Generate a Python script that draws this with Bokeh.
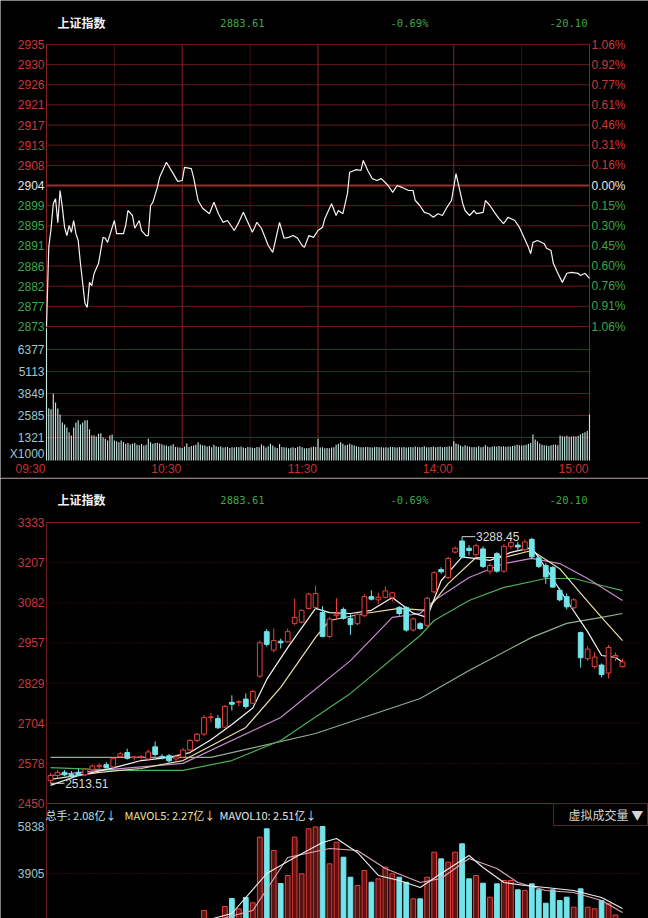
from bokeh.plotting import figure
from bokeh.layouts import column
from bokeh.models import Range1d, ColumnDataSource
from bokeh.embed import file_html
from bokeh.resources import INLINE
from bokeh.core.properties import value

# ---------------- data ----------------
index_name = "上证指数"
last_price = "2883.61"
change_pct = "-0.69%"
change_abs = "-20.10"

price_tick_labels = ["2935", "2930", "2926", "2921", "2917", "2913", "2908", "2904",
                     "2899", "2895", "2891", "2886", "2882", "2877", "2873"]
pct_tick_labels = ["1.06%", "0.92%", "0.77%", "0.61%", "0.46%", "0.31%", "0.16%", "0.00%",
                   "0.15%", "0.30%", "0.45%", "0.60%", "0.76%", "0.91%", "1.06%"]
minute_vol_ticks = [6377, 5113, 3849, 2585, 1321]
minute_vol_unit = "X1000"
time_labels = ["09:30", "10:30", "11:30", "14:00", "15:00"]
time_label_minutes = [0, 60, 120, 180, 240]

intraday_minute = [0, 1, 2, 3, 4, 5, 6, 7, 8, 9, 10, 11, 12, 13, 14, 15, 16, 17, 18, 19, 20, 21, 23, 25,
                   26, 27, 30, 31, 34, 35, 36, 38, 39, 41, 42, 44, 45, 46, 47, 49, 50, 52, 53, 56, 58,
                   60, 61, 64, 65, 67, 69, 72, 74, 76, 78, 80, 83, 85, 87, 89, 91, 93, 95, 98, 100,
                   101, 103, 105, 107, 109, 111, 113, 114, 116, 118, 120, 122, 123, 126, 128, 129,
                   131, 133, 134, 137, 139, 140, 142, 144, 146, 148, 151, 153, 155, 157, 160, 162,
                   163, 165, 167, 169, 171, 173, 175, 177, 179, 181, 182, 184, 185, 187, 189, 190,
                   193, 194, 196, 198, 200, 202, 204, 207, 209, 211, 213, 214, 215, 217, 220, 221,
                   223, 224, 226, 228, 230, 232, 235, 236, 238, 240]
intraday_price = [2873.0, 2890.4, 2894.5, 2900.0, 2901.1, 2895.8, 2902.9, 2899.2, 2894.8, 2893.0,
                  2895.2, 2893.7, 2896.3, 2893.4, 2891.9, 2886.9, 2882.5, 2878.1, 2877.2, 2882.7,
                  2882.0, 2884.6, 2886.9, 2892.6, 2892.4, 2891.5, 2896.3, 2893.4, 2893.4, 2895.2,
                  2898.5, 2897.4, 2894.6, 2896.3, 2894.1, 2893.0, 2893.0, 2899.6, 2900.3, 2903.6,
                  2905.8, 2908.0, 2909.1, 2906.6, 2904.9, 2905.1, 2908.0, 2907.7, 2905.8, 2900.7,
                  2899.0, 2897.8, 2900.3, 2897.8, 2895.9, 2896.3, 2894.1, 2895.9, 2898.1, 2895.9,
                  2893.7, 2895.9, 2894.6, 2890.8, 2889.3, 2891.5, 2895.9, 2892.4, 2892.6, 2893.0,
                  2892.4, 2890.8, 2890.4, 2893.0, 2892.6, 2894.1, 2894.8, 2896.7, 2900.0, 2897.4,
                  2898.5, 2897.8, 2902.2, 2906.9, 2907.5, 2907.3, 2909.5, 2907.3, 2905.5, 2905.1,
                  2905.5, 2904.0, 2902.5, 2904.0, 2903.6, 2902.9, 2902.9, 2900.7, 2899.6, 2898.1,
                  2897.8, 2897.0, 2897.8, 2897.4, 2899.2, 2900.7, 2906.6, 2904.4, 2900.0, 2898.5,
                  2897.4, 2898.5, 2897.8, 2898.1, 2900.7, 2899.6, 2898.1, 2896.7, 2895.6, 2897.0,
                  2896.3, 2894.8, 2892.6, 2890.4, 2889.0, 2891.5, 2891.9, 2891.2, 2890.2, 2889.7,
                  2886.9, 2884.7, 2882.7, 2884.7, 2884.9, 2884.7, 2884.2, 2884.7, 2883.6]

# minute volume (x1000), minutes 0..240
minute_volume = [
    7600, 3000, 2950, 3850, 3330, 2990, 2640, 2180, 2070, 1900,
    1630, 1440, 1900, 2180, 2310, 2070, 2180, 2310, 2310, 1800,
    1440, 1440, 1380, 1530, 1570, 1340, 1250, 1150, 1440, 1490,
    1150, 1100, 1050, 1150, 1060, 960, 1000, 920, 960, 1010,
    900, 880, 950, 860, 900, 1250, 1050, 960, 1000, 1020,
    980, 930, 880, 860, 820, 860, 930, 780, 760, 740,
    720, 800, 980, 780, 840, 860, 900, 1050, 920, 880,
    860, 800, 830, 760, 900, 820, 780, 800, 740, 760,
    780, 720, 760, 740, 770, 760, 800, 740, 720, 780,
    760, 730, 720, 780, 760, 920, 850, 740, 820, 960,
    860, 760, 720, 940, 780, 760, 740, 700, 730, 760,
    720, 780, 820, 760, 690, 700, 720, 760, 800, 780,
    1250, 740, 760, 700, 720, 700, 740, 760, 900, 960,
    1050, 960, 880, 900, 960, 900, 860, 820, 780, 760,
    760, 770, 780, 760, 740, 770, 780, 760, 760, 740,
    760, 740, 770, 780, 760, 740, 770, 760, 780, 740,
    760, 780, 760, 800, 770, 760, 780, 820, 760, 760,
    780, 800, 760, 770, 800, 760, 780, 790, 820, 800,
    1100, 980, 940, 860, 800, 880, 820, 790, 760, 780,
    760, 820, 760, 790, 880, 800, 760, 800, 820, 810,
    840, 800, 820, 790, 810, 800, 830, 860, 900, 880,
    860, 880, 900, 960, 1000, 1490, 1200, 1100, 980, 900,
    880, 860, 840, 880, 900, 920, 880, 1440, 1400, 1380,
    1420, 1360, 1380, 1400, 1380, 1420, 1500, 1560, 1630, 1700,
    2640]

kline_tick_labels = ["3333", "3207", "3082", "2957", "2829", "2704", "2578", "2450"]
k_open = [2522, 2538, 2548, 2542, 2548, 2540, 2556, 2566, 2572, 2565,
          2598, 2610, 2594, 2595, 2590, 2628, 2598, 2600, 2590, 2596,
          2618, 2648, 2668, 2720, 2717, 2690, 2768, 2768, 2778, 2765,
          2850, 2990, 2932, 2960, 2958, 3016, 3020, 3063, 3066, 3050,
          2975, 3040, 3060, 3032, 3015, 3040, 3100, 3090, 3098, 3098,
          3066, 3066, 2995, 3015, 3010, 3115, 3185, 3160, 3240, 3275,
          3252, 3232, 3250, 3180, 3235, 3180, 3258, 3262, 3248, 3280,
          3222, 3198, 3192, 3120, 3100, 3065, 2987, 2905, 2880, 2885,
          2860, 2910, 2880]
k_high = [2545, 2556, 2555, 2552, 2560, 2562, 2572, 2575, 2580, 2595,
          2612, 2622, 2600, 2602, 2620, 2645, 2605, 2606, 2604, 2625,
          2652, 2672, 2728, 2735, 2728, 2760, 2790, 2775, 2796, 2808,
          2962, 2998, 3000, 2968, 3000, 3094, 3060, 3112, 3135, 3070,
          3035, 3095, 3066, 3046, 3048, 3108, 3120, 3112, 3132, 3115,
          3070, 3070, 3035, 3020, 3100, 3180, 3192, 3225, 3258, 3288.45,
          3262, 3266, 3258, 3205, 3240, 3265, 3285, 3272, 3280, 3285,
          3228, 3205, 3196, 3128, 3110, 3095, 2990, 2945, 2925, 2890,
          2948, 2925, 2905]
k_low = [2513.51, 2530, 2536, 2528, 2535, 2536, 2550, 2558, 2560, 2562,
         2595, 2588, 2585, 2588, 2585, 2598, 2588, 2578, 2582, 2592,
         2614, 2642, 2662, 2705, 2684, 2688, 2742, 2755, 2748, 2762,
         2845, 2943, 2925, 2937, 2956, 3010, 3016, 3060, 3062, 2972,
         2970, 3030, 3028, 2980, 3010, 3036, 3088, 3078, 3095, 3085,
         3040, 2990, 2990, 2996, 3005, 3110, 3172, 3155, 3235, 3220,
         3230, 3222, 3190, 3170, 3175, 3175, 3250, 3245, 3240, 3218,
         3190, 3140, 3128, 3085, 3060, 3057, 2877, 2898, 2874, 2846,
         2843, 2898, 2877]
k_close = [2538, 2548, 2540, 2535, 2538, 2558, 2568, 2570, 2562, 2592,
           2606, 2592, 2596, 2598, 2612, 2604, 2596, 2584, 2596, 2618,
           2648, 2668, 2720, 2722, 2688, 2755, 2762, 2770, 2755, 2802,
           2955, 2950, 2962, 2955, 2990, 3035, 3057, 3108, 3110, 2975,
           3030, 3045, 3032, 3012, 3045, 3100, 3092, 3098, 3118, 3112,
           3047, 2995, 3030, 3000, 3095, 3175, 3178, 3220, 3252, 3225,
           3245, 3260, 3195, 3198, 3180, 3258, 3270, 3256, 3272, 3225,
           3195, 3162, 3130, 3090, 3068, 3090, 2908, 2935, 2910, 2855,
           2940, 2915, 2895]
k_volume = [1500, 1450, 1300, 1250, 1350, 1400, 1500, 1450, 1350, 1600,
            1700, 1650, 1400, 1350, 1550, 1750, 1500, 1600, 1450, 1800,
            1950, 2000, 2383, 2000, 1950, 2548, 2877, 2453, 2918, 2700,
            5398, 5743, 4851, 3494, 3823, 5398, 3891, 5743, 5820, 5838,
            4304, 5192, 4576, 3753, 3411, 4028, 3547, 3687, 4166, 3891,
            3753, 3547, 2864, 2864, 3753, 4782, 4510, 4370, 4782, 5127,
            3687, 3823, 3506, 2930, 3481, 3617, 3617, 3235, 3206, 3481,
            3235, 2683, 3235, 2795, 2930, 2520, 3276, 2520, 2453, 2795,
            2659, 2200, 2000]

ma5_idx = [0, 4, 9, 13, 17, 20, 23, 26, 29, 31, 34, 38, 40, 43, 46, 49, 52, 54, 56, 59,
           63, 66, 69, 71, 74, 77, 79, 81, 82]
ma5_val = [2507, 2538, 2562, 2585, 2595, 2610, 2650, 2698, 2750, 2840, 2940, 3063, 3050, 3047,
           3057, 3097, 3048, 3035, 3150, 3225, 3214, 3239, 3254, 3190, 3088, 2990, 2915, 2909, 2895]
ma10_idx = [0, 7, 13, 19, 28, 33, 38, 40, 45, 50, 54, 57, 61, 65, 69, 73, 76, 79, 82]
ma10_val = [2526, 2548, 2560, 2585, 2689, 2815, 2972, 3025, 3047, 3063, 3057, 3141, 3223, 3223,
            3245, 3188, 3110, 3035, 2962]
ma20_idx = [0, 7, 19, 33, 43, 49, 53, 55, 60, 65, 69, 73, 77, 82]
ma20_val = [2538, 2554, 2576, 2720, 2899, 3035, 3047, 3088, 3160, 3204, 3220, 3204, 3157, 3088]
ma30_idx = [0, 10, 19, 26, 33, 43, 53, 55, 60, 65, 71, 75, 79, 82]
ma30_val = [2563, 2554, 2554, 2585, 2648, 2796, 2978, 3025, 3088, 3129, 3157, 3157, 3135, 3119]
ma60_idx = [0, 12, 23, 38, 53, 60, 69, 74, 79, 82]
ma60_val = [2595, 2595, 2595, 2670, 2780, 2868, 2972, 3016, 3035, 3047]

kvol_ticks = [5838, 3905]
mavol5_idx = [0, 20, 26, 31, 35, 39, 41, 44, 47, 50, 53, 56, 60, 62, 65, 68, 71, 75, 79, 82]
mavol5_val = [1500, 1800, 2260, 3905, 4563, 5180, 5345, 4769, 3823, 3617, 3329, 3905, 4645,
              4152, 3535, 3411, 3329, 3206, 2918, 2465]
mavol10_idx = [0, 20, 29, 34, 40, 44, 48, 53, 56, 60, 64, 67, 71, 75, 79, 82]
mavol10_val = [1500, 1700, 2383, 4563, 4933, 4851, 4111, 3535, 3699, 4522, 4111, 3535, 3206,
               3124, 2795, 2301]
vol_header = ["总手: 2.08亿↓", "MAVOL5: 2.27亿↓", "MAVOL10: 2.51亿↓"]
vol_selector = "虚拟成交量 ▼"

# ---------------- style / layout ----------------
W = 648
H1, H2 = 478, 440
BG = "#000000"
RED_TXT = "#c8393c"
GRN_TXT = "#3ea64b"
WHT_TXT = "#e6e6e6"
VOL_TXT = "#9fc6cf"
GRID_RED = "#681818"
GRID_RED_HI = "#a02c2c"
VGRID_MAJ = "#862424"
VGRID_MIN = "#3a1010"
UP = "#e8413c"
DN = "#72e4ea"
NUM_FONT = "Liberation Sans"
CJK_FONT = "Noto Sans CJK SC"
MONO_FONT = "DejaVu Sans Mono"


def make_fig(h, xr, yr, extra):
    p = figure(width=W, height=h, x_range=xr, y_range=yr, output_backend="svg",
               toolbar_location=None, x_axis_location=None, y_axis_location=None,
               min_border=0, background_fill_color=BG, border_fill_color=BG,
               outline_line_color=None, title=None)
    p.grid.visible = False
    p.extra_x_ranges = {"px": Range1d(0, W)}
    ranges = {"py": Range1d(h, 0)}
    ranges.update(extra)
    p.extra_y_ranges = ranges
    return p


def txt(p, x, y, s, color, size=12, align="left", font=NUM_FONT, style="normal",
        xr="px", yr="py"):
    p.text(x=[x], y=[y], text=[s], x_range_name=xr, y_range_name=yr,
           text_color=color, text_font_size=f"{size}px", text_align=align,
           text_baseline="middle", text_font=value(font), text_font_style=style)


def header(p, y):
    txt(p, 57, y, index_name, "#f2f2f2", 12, font=CJK_FONT, style="bold")
    txt(p, 242, y, last_price, GRN_TXT, 10.5, align="center", font=MONO_FONT)
    txt(p, 409, y, change_pct, GRN_TXT, 10.5, align="center", font=MONO_FONT)
    txt(p, 568, y, change_abs, GRN_TXT, 10.5, align="center", font=MONO_FONT)


prev_close = float(last_price) - float(change_abs)

# ================= top panel: intraday =================
T_X0, T_X1 = 46, 589
T_Y_TOP, T_Y_BOT = 44, 326
T_VOL_BASE = 460
T_VOL_REF = 349
N_MIN = 240
ppm = (T_X1 - T_X0) / N_MIN
P_HI, P_LO = float(price_tick_labels[0]), float(price_tick_labels[-1])
ppp = (T_Y_BOT - T_Y_TOP) / (P_HI - P_LO)
vppu = (T_VOL_BASE - T_VOL_REF) / minute_vol_ticks[0]

xr1 = Range1d(-T_X0 / ppm, N_MIN + (W - T_X1) / ppm)
yr1 = Range1d(P_LO - (H1 - T_Y_BOT) / ppp, P_HI + T_Y_TOP / ppp)
p1 = make_fig(H1, xr1, yr1, {"vol": Range1d(-(H1 - T_VOL_BASE) / vppu, T_VOL_BASE / vppu)})

header(p1, 22)

n_rows = len(price_tick_labels)
step = (P_HI - P_LO) / (n_rows - 1)
row_vals = [P_HI - k * step for k in range(n_rows)]
mid_k = min(range(n_rows), key=lambda k: abs(row_vals[k] - prev_close))

# vertical grid (half-hour)
half_hours = list(range(0, N_MIN + 1, 30))
minor = [m for m in half_hours if m % 60 != 0]
major = [m for m in half_hours if m % 60 == 0]
p1.segment(x0=minor, x1=minor, y0=[T_Y_TOP] * len(minor), y1=[T_VOL_BASE] * len(minor),
           y_range_name="py", line_color=VGRID_MIN, line_width=1)

# horizontal price rows
rows_norm = [v for k, v in enumerate(row_vals) if k != mid_k]
p1.segment(x0=[0] * len(rows_norm), x1=[N_MIN] * len(rows_norm), y0=rows_norm, y1=rows_norm,
           line_color=GRID_RED, line_width=1)
p1.segment(x0=[0], x1=[N_MIN], y0=[row_vals[mid_k]], y1=[row_vals[mid_k]],
           line_color=GRID_RED_HI, line_width=2)
# horizontal volume rows
p1.segment(x0=[0] * len(minute_vol_ticks), x1=[N_MIN] * len(minute_vol_ticks),
           y0=minute_vol_ticks, y1=minute_vol_ticks, y_range_name="vol",
           line_color=GRID_RED, line_width=1)
p1.segment(x0=major, x1=major, y0=[T_Y_TOP] * len(major), y1=[T_VOL_BASE] * len(major),
           y_range_name="py", line_color=VGRID_MAJ, line_width=1)

# minute volume bars
p1.vbar(x=list(range(len(minute_volume))), top=minute_volume, bottom=0, width=0.5,
        y_range_name="vol", fill_color="#c4e6df", line_color=None)

# price line
p1.line(intraday_minute, intraday_price, line_color="#f4f4f4", line_width=1.2)

# labels
for k, (lab, pl) in enumerate(zip(price_tick_labels, pct_tick_labels)):
    c = RED_TXT if k < mid_k else (WHT_TXT if k == mid_k else GRN_TXT)
    txt(p1, 44, row_vals[k], lab, c, 12, align="right", yr="default")
    txt(p1, 591, row_vals[k], pl, c, 12, align="left", yr="default")
for v in minute_vol_ticks:
    p1.text(x=[44], y=[v], text=[str(v)], x_range_name="px", y_range_name="vol",
            text_color=VOL_TXT, text_font_size="12px", text_align="right",
            text_baseline="middle", text_font=value(NUM_FONT))
txt(p1, 44, 453, minute_vol_unit, VOL_TXT, 12, align="right")
for lab, m in zip(time_labels, time_label_minutes):
    p1.text(x=[m], y=[468], text=[lab], y_range_name="py", text_color="#c43232",
            text_font_size="12px", text_align="right", text_baseline="middle",
            text_font=value(NUM_FONT), x_offset=-1)
p1.segment(x0=[0], x1=[W], y0=[477], y1=[477], x_range_name="px", y_range_name="py",
           line_color="#3a2222", line_width=1)

# ================= bottom panel: daily K-line =================
K_X_FIRST, K_X_LAST = 50, 622
n = len(k_open)
dx = (K_X_LAST - K_X_FIRST) / (n - 1)
K_Y_TOP, K_Y_BOT = 44, 325
K_HI, K_LO = float(kline_tick_labels[0]), float(kline_tick_labels[-1])
kppp = (K_Y_BOT - K_Y_TOP) / (K_HI - K_LO)
KV_Y_HI, KV_Y_LO = 348, 395   # pixel rows of the two volume ticks
kvppu = (KV_Y_LO - KV_Y_HI) / (kvol_ticks[0] - kvol_ticks[1])

xr2 = Range1d(-K_X_FIRST / dx, (W - K_X_FIRST) / dx)
yr2 = Range1d(K_LO - (H2 - K_Y_BOT) / kppp, K_HI + K_Y_TOP / kppp)
kv_lo = kvol_ticks[1] - (H2 - KV_Y_LO) / kvppu
kv_hi = kvol_ticks[1] + KV_Y_LO / kvppu
p2 = make_fig(H2, xr2, yr2, {"vol": Range1d(kv_lo, kv_hi)})

header(p2, 21)

nk = len(kline_tick_labels)
kstep = (K_HI - K_LO) / (nk - 1)
k_rows = [K_HI - i * kstep for i in range(nk)]
inner = k_rows[1:-1]
p2.segment(x0=[46] * len(inner), x1=[640] * len(inner), y0=inner, y1=inner, x_range_name="px",
           line_color="#4a1818", line_width=1, line_dash="1 2")
p2.segment(x0=[46], x1=[640], y0=[kvol_ticks[1]], y1=[kvol_ticks[1]], x_range_name="px",
           y_range_name="vol", line_color="#4a1818", line_width=1, line_dash="1 2")
p2.segment(x0=[46, 46], x1=[640, 640], y0=[k_rows[0], k_rows[-1]], y1=[k_rows[0], k_rows[-1]],
           x_range_name="px", line_color="#7a2020", line_width=1.2)
p2.segment(x0=[46], x1=[46], y0=[K_Y_TOP], y1=[H2], x_range_name="px", y_range_name="py",
           line_color="#6a1c1c", line_width=1)

for lab, v in zip(kline_tick_labels, k_rows):
    txt(p2, 44, v, lab, RED_TXT, 12, align="right", yr="default")
for v in kvol_ticks:
    p2.text(x=[44], y=[v], text=[str(v)], x_range_name="px", y_range_name="vol",
            text_color=VOL_TXT, text_font_size="12px", text_align="right",
            text_baseline="middle", text_font=value(NUM_FONT))

idx = list(range(n))
up = [c >= o for o, c in zip(k_open, k_close)]
src = ColumnDataSource(dict(
    x=idx, o=k_open, h=k_high, l=k_low, c=k_close, vol=k_volume,
    top=[max(o, c) for o, c in zip(k_open, k_close)],
    bot=[min(o, c) for o, c in zip(k_open, k_close)],
    lc=[UP if u else DN for u in up],
    fc=[BG if u else DN for u in up],
    vfc=["#5a1212" if u else DN for u in up],
))

# volume bars
p2.vbar(x="x", top="vol", bottom=0, width=0.68, source=src, y_range_name="vol",
        fill_color="vfc", line_color="lc", line_width=1)

# moving averages
for ii, vv, col in [(ma60_idx, ma60_val, "#8fae95"), (ma30_idx, ma30_val, "#4fae56"),
                    (ma20_idx, ma20_val, "#c98ad0"), (ma10_idx, ma10_val, "#e9dfa8"),
                    (ma5_idx, ma5_val, "#f4f4f4")]:
    p2.line(ii, vv, line_color=col, line_width=1.2, line_join="round")

# candles
p2.segment(x0="x", x1="x", y0="l", y1="h", source=src, line_color="lc", line_width=1)
p2.vbar(x="x", top="top", bottom="bot", width=0.68, source=src, fill_color="fc",
        line_color="lc", line_width=1)

# volume MAs
p2.line(mavol10_idx, mavol10_val, y_range_name="vol", line_color="#e0a8b8", line_width=1.1)
p2.line(mavol5_idx, mavol5_val, y_range_name="vol", line_color="#eeeeee", line_width=1.1)

# extreme markers
i_hi = max(idx, key=lambda i: k_high[i])
i_lo = min(idx, key=lambda i: k_low[i])
p2.segment(x0=[i_hi, i_lo], x1=[i_hi + 1.9, i_lo + 2.0], y0=[k_high[i_hi], k_low[i_lo]],
           y1=[k_high[i_hi], k_low[i_lo]], line_color="#d8d8d8", line_width=1)
p2.text(x=[i_hi + 2.0], y=[k_high[i_hi]], text=[f"{k_high[i_hi]:.2f}"], text_color="#d8d8d8",
        text_font_size="12px", text_baseline="middle", text_font=value(NUM_FONT))
p2.text(x=[i_lo + 2.1], y=[k_low[i_lo]], text=[f"{k_low[i_lo]:.2f}"], text_color="#d8d8d8",
        text_font_size="12px", text_baseline="middle", text_font=value(NUM_FONT))

# volume header + selector box
hy = 336
txt(p2, 45, hy, vol_header[0], "#bfe6e6", 11, font=CJK_FONT)
txt(p2, 124, hy, vol_header[1], "#e8e2a0", 11, font=CJK_FONT)
txt(p2, 219, hy, vol_header[2], "#e6e6e6", 11, font=CJK_FONT)
p2.quad(left=[553], right=[647], top=[325], bottom=[347], x_range_name="px", y_range_name="py",
        fill_color=BG, line_color="#4a2a2a", line_width=1)
txt(p2, 568, hy, vol_selector, "#d4d4d4", 12, font=CJK_FONT)

layout = column(p1, p2, spacing=0)
with open("out.html", "w", encoding="utf-8") as f:
    f.write(file_html(layout, INLINE))
